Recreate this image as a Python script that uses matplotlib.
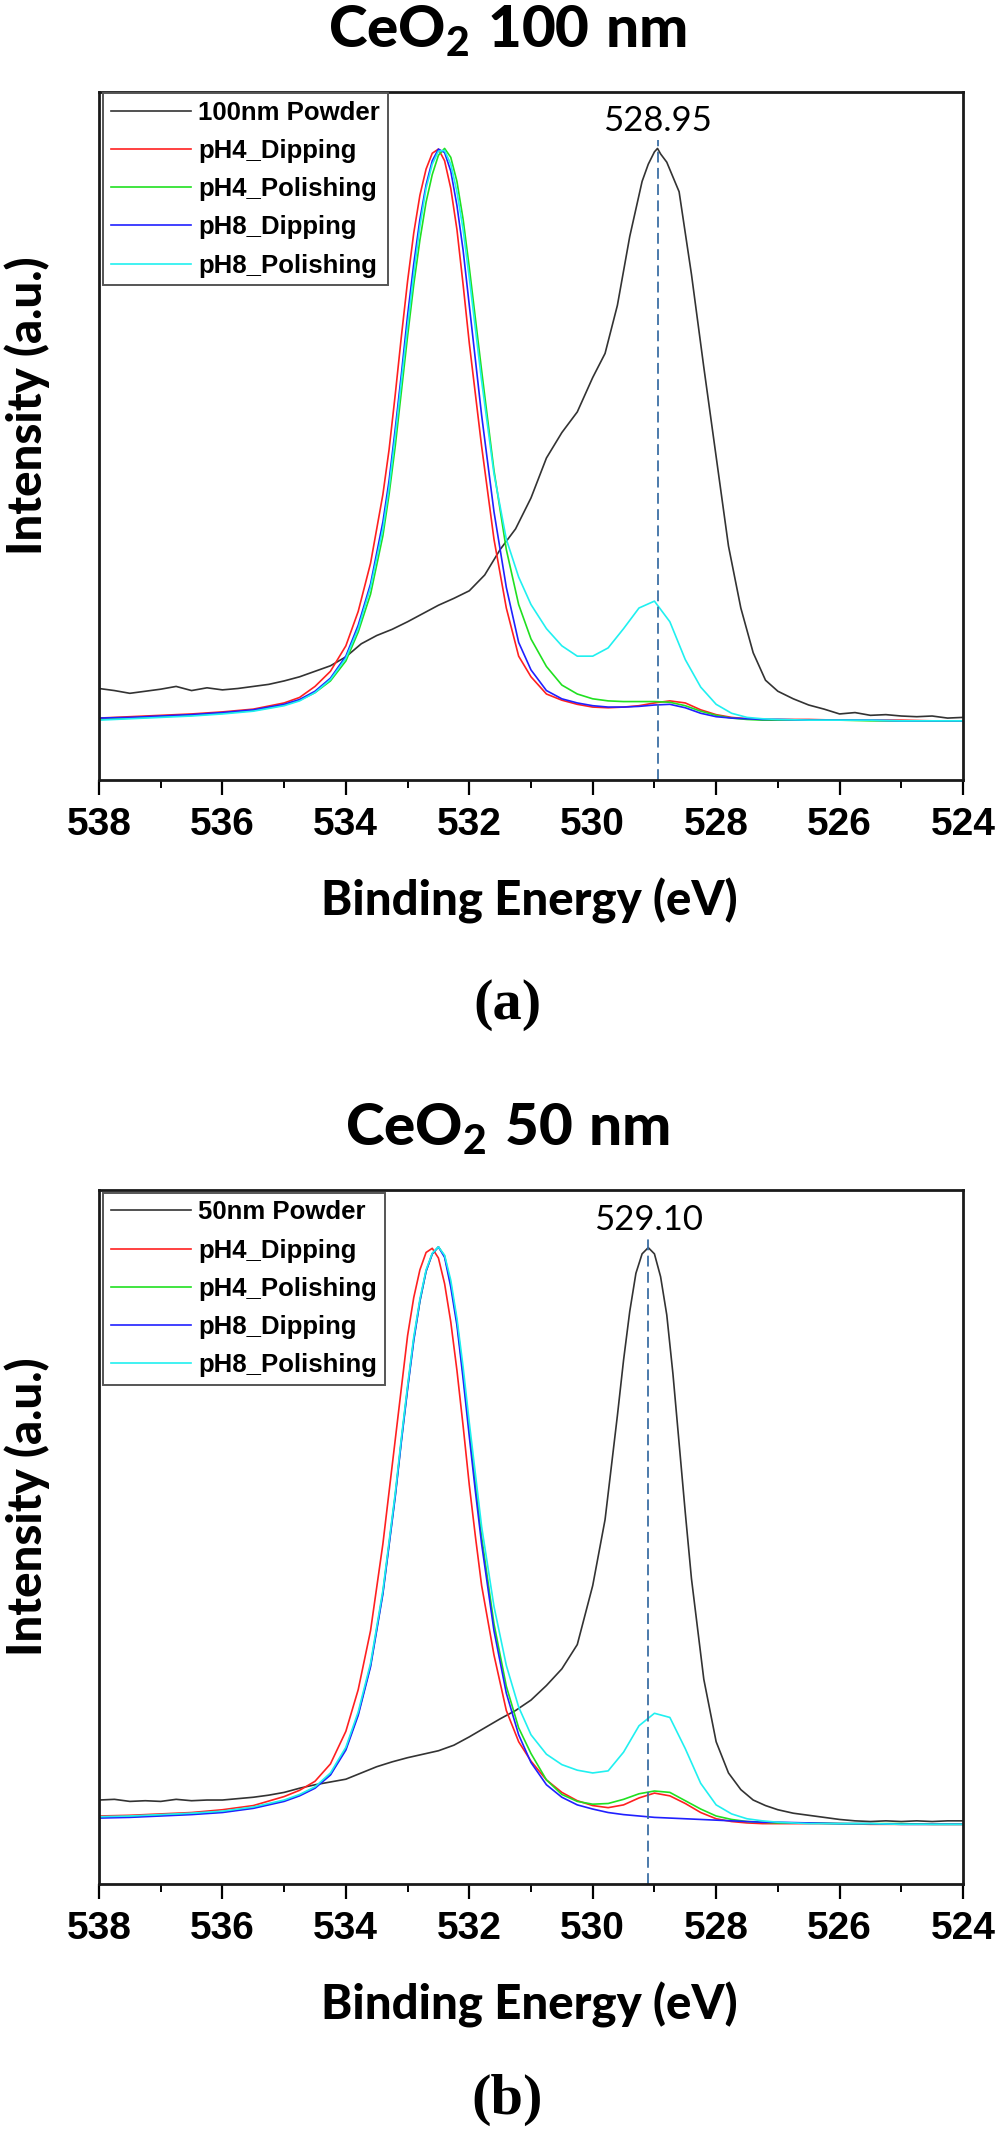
import numpy as np
import matplotlib
matplotlib.use('Agg')
import matplotlib.pyplot as plt
from matplotlib.ticker import MultipleLocator

plt.rcParams['font.family'] = ['Liberation Sans', 'DejaVu Sans']
plt.rcParams['mathtext.fontset'] = 'custom'
plt.rcParams['mathtext.rm'] = 'Lato:black'
plt.rcParams['mathtext.it'] = 'Lato:black'
plt.rcParams['mathtext.bf'] = 'Lato:black'
plt.rcParams['mathtext.default'] = 'rm'

# binding energy grid (eV) shared by the treated samples
energy = [538, 537.5, 537, 536.5, 536, 535.5, 535, 534.75, 534.5, 534.25, 534,
          533.8, 533.6, 533.4, 533.3, 533.2, 533.1, 533.0, 532.9, 532.8, 532.7,
          532.6, 532.5, 532.4, 532.3, 532.2, 532.1, 532.0, 531.9, 531.8, 531.6,
          531.4, 531.2, 531, 530.75, 530.5, 530.25, 530, 529.75, 529.5, 529.25,
          529, 528.75, 528.5, 528.25, 528, 527.75, 527.5, 527.25, 527, 526.5,
          526, 525.5, 525, 524.5, 524]

# ---- (a) CeO2 100 nm ----
a_pH4_dip = [9.0, 9.2, 9.4, 9.6, 9.9, 10.3, 11.2, 12.0, 13.6, 15.8, 19.5,
             24.5, 31.5, 41.5, 48.0, 56.0, 64.5, 72.5, 79.5, 85.0, 88.8,
             91.1, 91.7, 90.0, 86.0, 80.0, 72.0, 63.5, 56.0, 48.5, 35.0,
             25.0, 18.0, 15.0, 12.5, 11.6, 11.0, 10.6, 10.5, 10.6, 10.8,
             11.2, 11.5, 11.2, 10.2, 9.5, 9.1, 8.9, 8.8, 8.8, 8.8,
             8.7, 8.7, 8.7, 8.6, 8.6]
a_pH4_pol = [8.8, 9.0, 9.2, 9.4, 9.7, 10.1, 10.9, 11.6, 12.7, 14.4, 17.3,
             21.5, 27.0, 35.5, 41.5, 48.5, 56.5, 64.5, 72.0, 78.5, 84.0,
             88.0, 90.8, 91.8, 90.5, 87.0, 81.5, 74.5, 67.0, 59.5, 45.0,
             33.5, 25.5, 20.5, 16.5, 13.8, 12.5, 11.8, 11.5, 11.4, 11.4,
             11.4, 11.3, 10.8, 10.0, 9.4, 9.0, 8.8, 8.7, 8.7, 8.7,
             8.7, 8.6, 8.6, 8.6, 8.6]
a_pH8_dip = [9.0, 9.1, 9.3, 9.5, 9.8, 10.2, 11.0, 11.7, 12.9, 14.8, 18.0,
             22.5, 28.5, 37.5, 43.5, 51.0, 59.0, 67.5, 75.0, 81.5, 86.5,
             90.0, 91.7, 91.2, 88.5, 83.5, 77.0, 69.0, 61.0, 53.0, 39.0,
             28.0, 20.0, 16.0, 13.0, 11.8, 11.2, 10.8, 10.6, 10.6, 10.7,
             10.9, 11.0, 10.5, 9.7, 9.2, 9.0, 8.9, 8.8, 8.8, 8.7,
             8.7, 8.7, 8.6, 8.6, 8.6]
a_pH8_pol = [8.7, 8.9, 9.1, 9.3, 9.6, 10.0, 10.8, 11.5, 12.7, 14.6, 17.7,
             22.0, 28.0, 36.5, 42.5, 50.0, 58.0, 66.0, 73.5, 80.5, 86.0,
             89.5, 91.4, 91.5, 89.5, 85.5, 80.0, 73.0, 65.5, 58.0, 44.5,
             35.0, 29.5, 25.5, 22.0, 19.5, 18.0, 18.0, 19.2, 22.0, 25.0,
             26.0, 23.0, 17.5, 13.5, 11.0, 9.7, 9.1, 8.9, 8.8, 8.7,
             8.7, 8.7, 8.6, 8.6, 8.6]

a_powder_energy = [538, 537.75, 537.5, 537.25, 537, 536.75, 536.5, 536.25, 536,
                   535.75, 535.5, 535.25, 535, 534.75, 534.5, 534.25, 534,
                   533.75, 533.5, 533.25, 533, 532.75, 532.5, 532.25, 532,
                   531.75, 531.5, 531.25, 531, 530.75, 530.5, 530.25,
                   530.0, 529.8, 529.6, 529.4, 529.2, 529.1, 529.0, 528.95,
                   528.9, 528.8, 528.6, 528.4, 528.2, 528.0, 527.8, 527.6,
                   527.4, 527.2, 527.0,
                   526.75, 526.5, 526.25, 526, 525.75, 525.5, 525.25, 525,
                   524.75, 524.5, 524.25, 524]
a_powder = [13.3, 13.0, 12.6, 12.9, 13.2, 13.6, 13.0, 13.4, 13.1,
            13.3, 13.6, 13.9, 14.4, 15.0, 15.8, 16.6, 17.9,
            19.8, 21.0, 21.9, 23.0, 24.2, 25.4, 26.4, 27.5,
            29.8, 33.5, 36.5, 41.0, 46.8, 50.5, 53.5,
            58.5, 62.0, 69.0, 79.0, 87.0, 89.5, 91.3, 91.8,
            91.0, 89.8, 85.5, 73.5, 60.0, 47.0, 34.0, 25.0,
            18.5, 14.5, 12.9,
            11.8, 10.9, 10.3, 9.6, 9.8, 9.4, 9.5, 9.3,
            9.2, 9.3, 9.0, 9.1]

# ---- (b) CeO2 50 nm ----
b_pH4_dip = [9.8, 9.9, 10.1, 10.3, 10.7, 11.3, 12.6, 13.5, 14.8, 17.3, 22.0,
             28.0, 36.5, 49.0, 56.5, 64.0, 71.5, 79.0, 84.5, 88.5, 91.0,
             91.6, 90.2, 86.5, 81.0, 74.0, 66.0, 57.5, 50.0, 43.0, 33.0,
             25.0, 20.5, 17.7, 15.0, 13.2, 12.0, 11.3, 11.0, 11.4, 12.4,
             13.1, 12.7, 11.6, 10.3, 9.4, 9.0, 8.8, 8.7, 8.7, 8.7,
             8.7, 8.6, 8.6, 8.6, 8.6]
b_pH4_pol = [9.6, 9.7, 9.9, 10.1, 10.4, 11.0, 12.0, 12.8, 13.9, 15.8, 19.5,
             24.5, 31.5, 42.0, 49.0, 56.0, 64.0, 71.5, 78.5, 84.0, 88.3,
             90.8, 91.8, 90.5, 86.5, 81.0, 73.5, 65.5, 57.5, 50.0, 37.5,
             28.5, 22.5, 18.8, 15.0, 12.9, 11.9, 11.5, 11.6, 12.2, 13.0,
             13.4, 13.2, 12.0, 10.8, 9.8, 9.3, 9.0, 8.9, 8.8, 8.8,
             8.7, 8.7, 8.7, 8.6, 8.6]
b_pH8_dip = [9.5, 9.6, 9.8, 10.0, 10.3, 10.9, 11.9, 12.7, 13.8, 15.7, 19.3,
             24.3, 31.3, 41.8, 48.8, 55.8, 63.8, 71.3, 78.3, 84.0, 88.3,
             90.8, 91.8, 90.3, 86.0, 80.5, 72.8, 64.5, 56.5, 49.0, 36.5,
             27.5, 21.5, 17.5, 14.3, 12.5, 11.4, 10.8, 10.3, 10.0, 9.8,
             9.6, 9.5, 9.4, 9.3, 9.2, 9.1, 9.0, 8.9, 8.9, 8.8,
             8.7, 8.7, 8.6, 8.6, 8.6]
b_pH8_pol = [9.7, 9.8, 10.0, 10.2, 10.5, 11.1, 12.1, 12.9, 14.0, 16.0, 19.7,
             24.8, 31.8, 42.3, 49.3, 56.3, 64.3, 71.8, 78.8, 84.3, 88.5,
             90.9, 91.8, 90.6, 87.0, 81.5, 74.5, 66.5, 59.0, 51.5, 40.0,
             31.5, 25.5, 21.5, 18.7, 17.2, 16.4, 16.0, 16.3, 19.0, 22.8,
             24.6, 24.0, 19.5, 14.5, 11.4, 10.1, 9.4, 9.1, 8.9, 8.7,
             8.7, 8.7, 8.6, 8.6, 8.6]

b_powder_energy = [538, 537.75, 537.5, 537.25, 537, 536.75, 536.5, 536.25, 536,
                   535.75, 535.5, 535.25, 535, 534.75, 534.5, 534.25, 534,
                   533.75, 533.5, 533.25, 533, 532.75, 532.5, 532.25, 532,
                   531.75, 531.5, 531.25, 531, 530.75, 530.5, 530.25,
                   530.0, 529.8, 529.6, 529.5, 529.4, 529.3, 529.2, 529.1,
                   529.0, 528.9, 528.8, 528.7, 528.6, 528.5, 528.4, 528.2,
                   528.0, 527.8, 527.6, 527.4, 527.2, 527.0,
                   526.75, 526.5, 526.25, 526, 525.75, 525.5, 525.25, 525,
                   524.75, 524.5, 524.25, 524]
b_powder = [12.1, 12.2, 11.9, 12.0, 11.9, 12.2, 12.0, 12.1, 12.1,
            12.3, 12.5, 12.8, 13.2, 13.8, 14.3, 14.7, 15.1,
            16.0, 16.9, 17.6, 18.2, 18.7, 19.2, 20.0, 21.2,
            22.5, 23.8, 25.0, 26.5, 28.6, 31.0, 34.5,
            43.0, 52.5, 67.5, 75.5, 82.5, 88.0, 90.8, 91.7,
            90.8, 87.5, 82.0, 73.5, 63.5, 53.5, 44.0, 29.5,
            20.5, 16.0, 13.6, 12.1, 11.3, 10.7,
            10.2, 9.9, 9.6, 9.3, 9.1, 9.0, 9.1, 9.0,
            9.1, 9.0, 9.1, 9.1]

sample_labels = ['pH4_Dipping', 'pH4_Polishing', 'pH8_Dipping', 'pH8_Polishing']
sample_colors = ['#ff2020', '#20e020', '#2020ff', '#20f0f0']
peak_a = 528.95
peak_b = 529.10
panel_tags = ['(a)', '(b)']
titles = [r'$\mathrm{CeO_2\ 100\ nm}$', r'$\mathrm{CeO_2\ 50\ nm}$']

W, H = 1000, 2134
fig = plt.figure(figsize=(W / 100, H / 100), dpi=100)


def draw_panel(top, bottom, powder_e, powder, powder_label, samples, peak,
               title, title_base, tag, tag_y, legend_y):
    ax = fig.add_axes([99 / W, 1 - bottom / H, 864 / W, (bottom - top) / H])
    ax.plot(powder_e, powder, color='#333333', lw=1.2, label=powder_label)
    for vals, lab, col in zip(samples, sample_labels, sample_colors):
        ax.plot(energy, vals, color=col, lw=1.2, label=lab)
    ax.axvline(peak, ymin=0, ymax=0.93, color='#3d6fa5', lw=1.3,
               dashes=(6, 3))
    ax.text(peak, 94.3, f'{peak:.2f}', ha='center', va='baseline',
            fontsize=25, family='Lato')

    ax.set_xlim(538, 524)
    ax.set_ylim(0, 100)
    ax.xaxis.set_major_locator(MultipleLocator(2))
    ax.xaxis.set_minor_locator(MultipleLocator(1))
    ax.set_yticks([])
    ax.tick_params(axis='x', which='major', direction='out', length=10.8,
                   width=1.6, pad=8.6, labelsize=28)
    ax.tick_params(axis='x', which='minor', direction='out', length=5.8,
                   width=1.4)
    for lab in ax.get_xticklabels():
        lab.set_fontweight('bold')
    for sp in ax.spines.values():
        sp.set_linewidth(2.0)
        sp.set_color('#1a1a1a')

    ax.set_xlabel('Binding Energy (eV)', family='Lato', fontweight='black',
                  fontsize=34)
    ax.xaxis.label.set_va('baseline')
    ax.xaxis.set_label_coords(0.498, -135 / (bottom - top))
    ax.set_ylabel('Intensity (a.u.)', family='Lato', fontweight='black',
                  fontsize=34)
    ax.yaxis.label.set_va('center')
    ax.yaxis.set_label_coords(-0.083, 0.544)

    leg = ax.legend(loc='upper left', bbox_to_anchor=(0.005, legend_y),
                    borderaxespad=0, fancybox=False, framealpha=1,
                    edgecolor='#555555', handlelength=3.1,
                    handletextpad=0.3, labelspacing=0.55, borderpad=0.3,
                    prop={'family': 'Liberation Sans', 'weight': 'bold',
                          'size': 18.5})
    leg.get_frame().set_linewidth(1.4)

    fig.text(0.507, 1 - title_base / H, title, ha='center', va='baseline',
             fontsize=42)
    fig.text(0.507, 1 - tag_y / H, tag, ha='center', va='center',
             family='Liberation Serif', fontweight='bold', fontsize=42)
    return ax


draw_panel(92, 780, a_powder_energy, a_powder, '100nm Powder',
           [a_pH4_dip, a_pH4_pol, a_pH8_dip, a_pH8_pol], peak_a,
           titles[0], 47, panel_tags[0], 1005, 0.998)
draw_panel(1190, 1884, b_powder_energy, b_powder, '50nm Powder',
           [b_pH4_dip, b_pH4_pol, b_pH8_dip, b_pH8_pol], peak_b,
           titles[1], 1145, panel_tags[1], 2100, 0.996)

fig.savefig('out.png', dpi=100)
